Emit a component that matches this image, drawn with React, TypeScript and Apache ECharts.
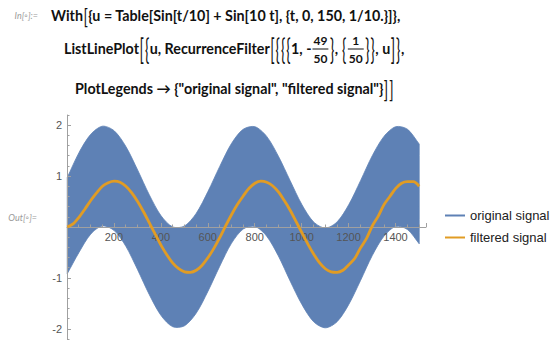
import React, { useEffect, useRef } from 'react';
import * as echarts from 'echarts';

const bandIndex = [1, 51, 101, 151, 201, 251, 301, 351, 401, 451, 501, 551, 601, 651, 701, 751, 801, 851, 901, 951, 1001, 1051, 1101, 1151, 1201, 1251, 1301, 1351, 1401, 1451, 1501];
// original signal: upper and lower edges of the dense oscillation band
const originalUpper = [0.97, 1.46, 1.82, 1.98, 1.89, 1.58, 1.12, 0.63, 0.22, 0.0, 0.02, 0.27, 0.7, 1.19, 1.64, 1.92, 1.97, 1.78, 1.39, 0.91, 0.44, 0.1, -0.02, 0.1, 0.44, 0.91, 1.4, 1.78, 1.97, 1.92, 1.63];
const originalLower = [-0.92, -0.5, -0.14, 0.02, -0.07, -0.38, -0.84, -1.33, -1.74, -1.96, -1.94, -1.69, -1.26, -0.77, -0.32, -0.04, 0.01, -0.18, -0.57, -1.06, -1.52, -1.86, -1.98, -1.86, -1.52, -1.05, -0.56, -0.18, 0.01, -0.05, -0.33];
// filtered signal, read every 25 positions
const filteredIndex = [1, 26, 51, 76, 101, 126, 151, 176, 201, 226, 251, 276, 301, 326, 351, 376, 401, 426, 451, 476, 501, 526, 551, 576, 601, 626, 651, 676, 701, 726, 751, 776, 801, 826, 851, 876, 901, 926, 951, 976, 1001, 1026, 1051, 1076, 1101, 1126, 1151, 1176, 1201, 1226, 1251, 1276, 1301, 1326, 1351, 1376, 1401, 1426, 1451, 1476, 1501];
const filtered = [0.0, 0.06, 0.19, 0.35, 0.52, 0.67, 0.8, 0.87, 0.9, 0.88, 0.8, 0.67, 0.5, 0.3, 0.08, -0.14, -0.36, -0.55, -0.71, -0.82, -0.88, -0.89, -0.85, -0.75, -0.6, -0.42, -0.21, 0.02, 0.24, 0.44, 0.61, 0.76, 0.86, 0.9, 0.88, 0.81, 0.69, 0.52, 0.33, 0.11, -0.11, -0.33, -0.53, -0.7, -0.82, -0.88, -0.89, -0.85, -0.74, -0.62, -0.41, -0.23, 0.02, 0.21, 0.44, 0.6, 0.76, 0.86, 0.89, 0.89, 0.8];

const xTicks = [200, 400, 600, 800, 1000, 1200, 1400];
const yTicks = [-2, -1, 1, 2];
const yMajorTicks = [-2, -1, 0, 1, 2];
const yMinorTicks = [-2.2, -1.8, -1.6, -1.4, -1.2, -0.8, -0.6, -0.4, -0.2, 0.2, 0.4, 0.6, 0.8, 1.2, 1.4, 1.6, 1.8, 2.2];
const seriesNames = ['original signal', 'filtered signal'];

const BLUE = '#5E81B5';
const ORANGE = '#E19C24';
const CODE_FAMILY = 'Lato';
const CODE_SIZE = 14.3;
const CODE_WEIGHT = 700;

const GRID_TOP = 115;
const GRID_H = 224;

type Tok = { s?: string; b?: string; k?: number; f?: [string, string] };

const line1: Tok[] = [{ s: 'With' }, { b: '[', k: 1.5 }, { s: '{u = Table[Sin[t/10] + Sin[10 t], {t, 0, 150, 1/10.}]},' }];
const line2: Tok[] = [
  { s: 'ListLinePlot' }, { b: '[', k: 2 }, { b: '{', k: 2 }, { s: 'u, RecurrenceFilter' }, { b: '[', k: 2 },
  { b: '{', k: 2 }, { b: '{', k: 2 }, { b: '{', k: 2 }, { s: '1, -' }, { f: ['49', '50'] }, { b: '}', k: 2 }, { s: ', ' },
  { b: '{', k: 2 }, { f: ['1', '50'] }, { b: '}', k: 2 }, { b: '}', k: 2 }, { s: ', u' }, { b: ']', k: 2 }, { b: '}', k: 2 }, { s: ',' },
];
const line3: Tok[] = [{ s: 'PlotLegends \u2192 {"original signal", "filtered signal"}' }, { b: ']', k: 1.6 }, { b: ']', k: 1.6 }];

function layout(tokens: Tok[], x0: number, y: number, ctx: CanvasRenderingContext2D) {
  const els: any[] = [];
  let x = x0;
  const font = `${CODE_WEIGHT} ${CODE_SIZE}px ${CODE_FAMILY}`;
  const thin = `400 ${CODE_SIZE}px ${CODE_FAMILY}`;
  const small = `${CODE_WEIGHT} 12px ${CODE_FAMILY}`;
  for (const t of tokens) {
    if (t.s !== undefined) {
      ctx.font = font;
      const w = ctx.measureText(t.s).width;
      els.push({ type: 'text', x, y, style: { text: t.s, font, fill: '#111', verticalAlign: 'middle', align: 'left' } });
      x += w;
    } else if (t.b !== undefined) {
      ctx.font = thin;
      const w = ctx.measureText(t.b).width;
      els.push({ type: 'text', x: x + 0.5, y: y + 1, scaleY: t.k || 1, style: { text: t.b, font: thin, fill: '#111', verticalAlign: 'middle', align: 'left' } });
      x += w + 1;
    } else if (t.f) {
      ctx.font = small;
      const w = Math.max(ctx.measureText(t.f[0]).width, ctx.measureText(t.f[1]).width) + 2;
      const cx = x + w / 2 + 1;
      els.push({ type: 'text', x: cx, y: y - 8, style: { text: t.f[0], font: small, fill: '#111', verticalAlign: 'middle', align: 'center' } });
      els.push({ type: 'line', shape: { x1: x + 1, y1: y + 1, x2: x + w + 1, y2: y + 1 }, style: { stroke: '#111', lineWidth: 1 } });
      els.push({ type: 'text', x: cx, y: y + 10, style: { text: t.f[1], font: small, fill: '#111', verticalAlign: 'middle', align: 'center' } });
      x += w + 2;
    }
  }
  return els;
}

export default function App() {
  const ref = useRef<HTMLDivElement>(null);
  useEffect(() => {
    document.body.style.margin = '0';
    const chart = echarts.init(ref.current!, null, { renderer: 'svg' });
    const ctx = document.createElement('canvas').getContext('2d')!;
    const codeEls = [
      ...layout(line1, 51, 15, ctx),
      ...layout(line2, 64, 48, ctx),
      ...layout(line3, 75, 88, ctx),
    ];
    const labelFont = `italic 400 9px ${CODE_FAMILY}`;
    const axisFont = 'Liberation Sans, Arial, sans-serif';
    const bandRows = bandIndex.map((x, i) => [x, originalUpper[i], originalLower[i]]);
    chart.setOption({
      animation: false,
      grid: { left: 67, top: GRID_TOP, width: 359, height: GRID_H, containLabel: false, outerBoundsMode: 'none' },
      legend: {
        orient: 'vertical',
        left: 440,
        top: 203,
        itemWidth: 20,
        itemHeight: 2,
        itemGap: 7,
        textStyle: { fontSize: 13, color: '#222', fontFamily: axisFont, lineHeight: 15 },
        data: [
          { name: seriesNames[0], icon: 'rect', itemStyle: { color: BLUE } },
          { name: seriesNames[1], icon: 'rect', itemStyle: { color: ORANGE } },
        ],
      },
      xAxis: {
        type: 'value',
        min: 0,
        max: 1530,
        interval: 200,
        z: 5,
        position: 'bottom',
        // y range is symmetric about 0, so the axis sits at mid-height of the grid
        offset: -GRID_H / 2,
        axisLine: { onZero: false, lineStyle: { color: '#a0a0a0', width: 1 } },
        axisTick: { show: true, inside: true, length: 4, lineStyle: { color: '#a0a0a0' } },
        minorTick: { show: true, splitNumber: 4, length: 2.5, lineStyle: { color: '#a0a0a0' } },
        splitLine: { show: false },
        axisLabel: {
          margin: 4,
          fontSize: 11,
          color: '#555',
          fontFamily: axisFont,
          formatter: (v: number) => (xTicks.includes(v) ? String(v) : ''),
        },
      },
      yAxis: [
        {
          type: 'value',
          min: -2.2,
          max: 2.2,
          z: 5,
          axisLine: { show: true, onZero: false, lineStyle: { color: '#a0a0a0', width: 1 } },
          axisTick: { show: true, inside: true, length: 4, lineStyle: { color: '#a0a0a0' }, customValues: yMajorTicks },
          splitLine: { show: false },
          axisLabel: {
            margin: 5,
            fontSize: 11,
            color: '#555',
            fontFamily: axisFont,
            customValues: yTicks,
            formatter: (v: number) => String(v),
          },
        },
        {
          type: 'value',
          min: -2.2,
          max: 2.2,
          position: 'left',
          z: 5,
          axisLine: { show: false, onZero: false },
          axisTick: { show: true, inside: true, length: 2.5, lineStyle: { color: '#a0a0a0' }, customValues: yMinorTicks },
          axisLabel: { show: false },
          splitLine: { show: false },
        },
      ],
      series: [
        {
          name: seriesNames[0],
          type: 'custom',
          silent: true,
          itemStyle: { color: BLUE },
          encode: { x: 0, y: [1, 2] },
          data: bandRows,
          renderItem: (params: any, api: any) => {
            if (params.dataIndex !== 0) return null;
            const top = bandRows.map((r) => api.coord([r[0], r[1]]));
            const bot = bandRows.map((r) => api.coord([r[0], r[2]])).reverse();
            // repeat the four corner points so the smoothing keeps the ends straight
            const pts = [top[0], ...top, top[top.length - 1], bot[0], ...bot, bot[bot.length - 1]];
            return {
              type: 'polygon',
              shape: { points: pts, smooth: 0.3 },
              style: { fill: BLUE, stroke: BLUE, lineWidth: 0.8 },
            };
          },
          z: 2,
        },
        {
          name: seriesNames[1],
          type: 'line',
          smooth: 0.3,
          symbol: 'none',
          lineStyle: { color: ORANGE, width: 2.8 },
          itemStyle: { color: ORANGE },
          data: filtered.map((v, i) => [filteredIndex[i], v]),
          z: 10,
        },
      ],
      graphic: [
        { type: 'text', x: 38, y: 15, style: { text: 'In[\u25E6]:=', font: labelFont, fill: '#9a9a9a', verticalAlign: 'middle', align: 'right' } },
        { type: 'text', x: 37, y: 217, style: { text: 'Out[\u25E6]=', font: labelFont, fill: '#9a9a9a', verticalAlign: 'middle', align: 'right' } },
        ...codeEls,
      ],
    });
    return () => chart.dispose();
  }, []);
  return <div ref={ref} style={{ width: 560, height: 342 }} />;
}
